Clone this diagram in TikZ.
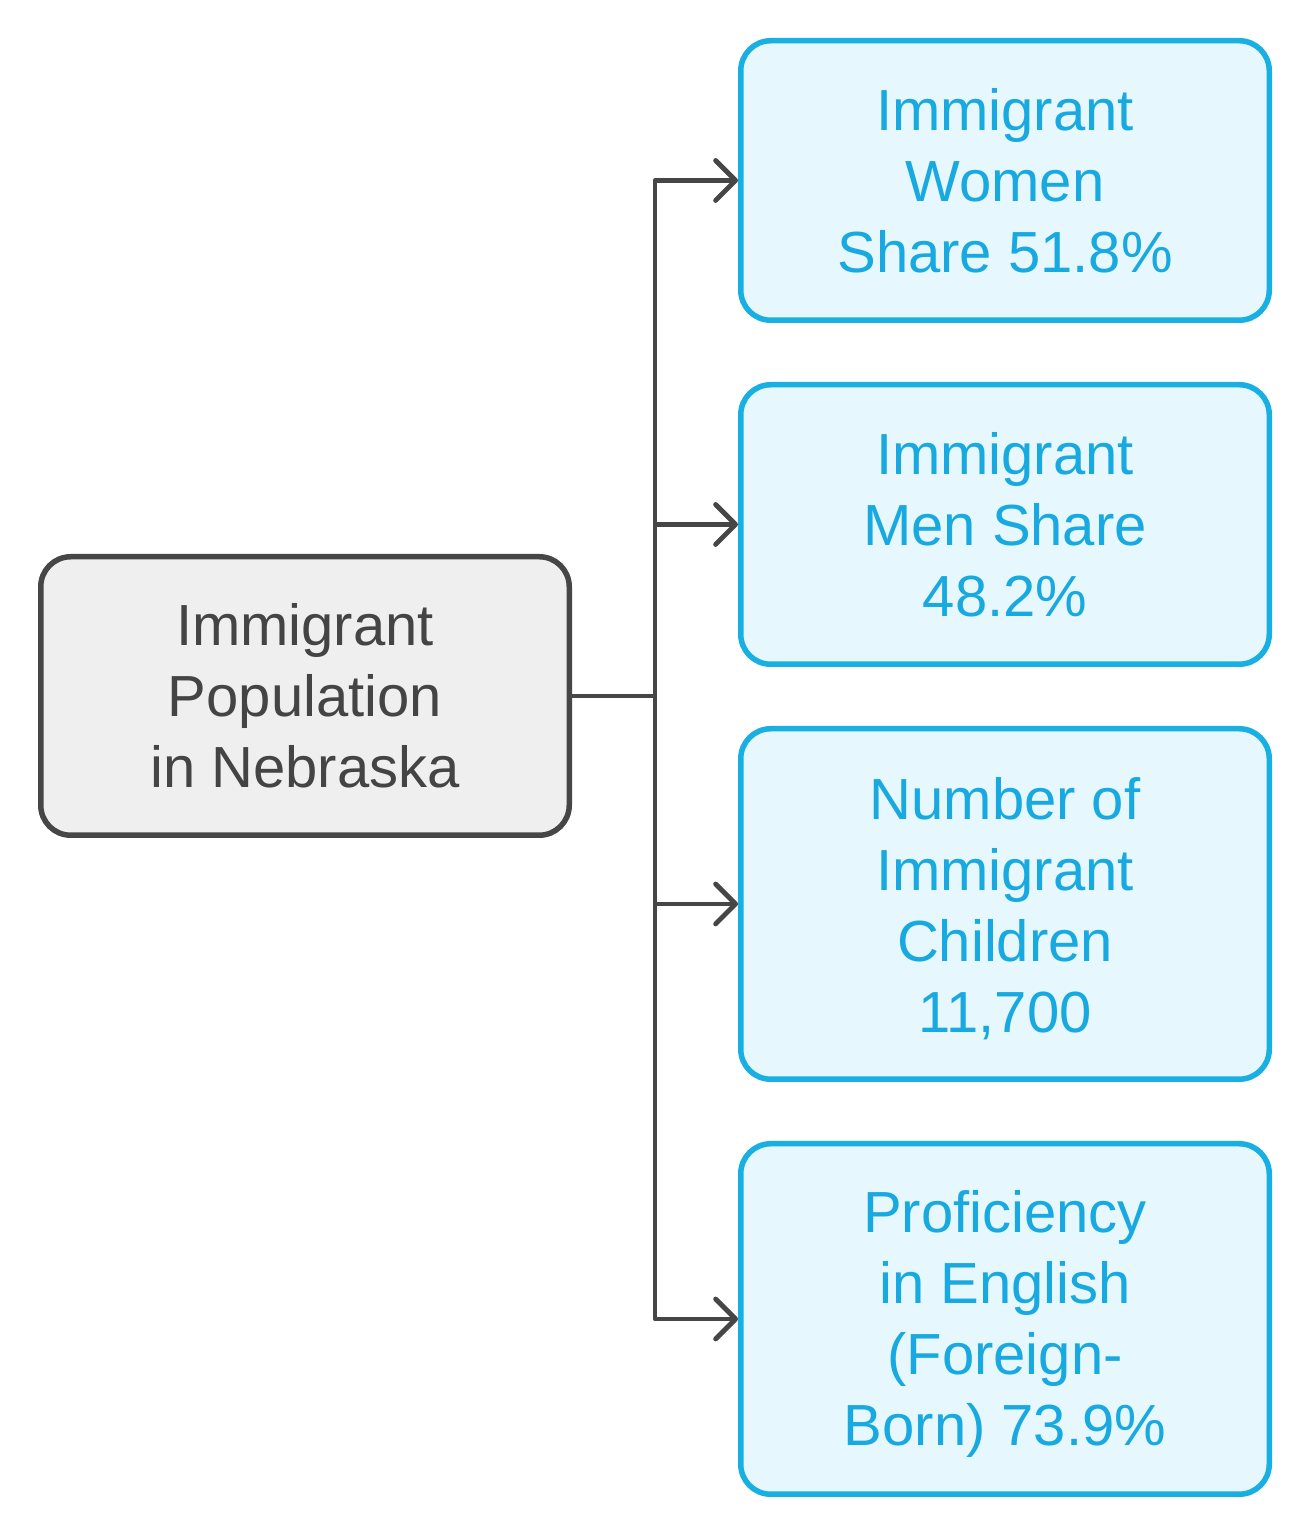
\documentclass[tikz,border=0pt]{standalone}
\usepackage{fontspec}
\setmainfont{Liberation Sans}
\usetikzlibrary{arrows.meta}
\definecolor{bluebd}{HTML}{18AFE3}
\definecolor{bluefill}{HTML}{E6F7FD}
\definecolor{bluetxt}{HTML}{17A9E0}
\definecolor{graybd}{HTML}{464646}
\definecolor{grayfill}{HTML}{EFEFEF}
\definecolor{graytxt}{HTML}{444444}
\newcommand{\topstrut}{\rule{0pt}{52pt}}
\tikzset{
  box/.style={rounded corners=30pt, line width=5.5pt, align=center,
    minimum width=528.5pt, inner sep=0pt,
    font=\fontsize{58pt}{71pt}\selectfont},
  rootbox/.style={box, draw=graybd, fill=grayfill, text=graytxt, minimum height=278.5pt},
  leafbox/.style={box, draw=bluebd, fill=bluefill, text=bluetxt},
  conn/.style={draw=graybd, line width=4.8pt, line join=round,
    -{Straight Barb[length=20pt,width=40pt,line width=4.8pt,line cap=round,line join=round]}},
  trunk/.style={draw=graybd, line width=4.8pt, line join=round}
}
\begin{document}
\begin{tikzpicture}[x=1pt,y=1pt]
\useasboundingbox[fill=white] (0,0) rectangle (1311,1536);
\node[rootbox] (root) at (305,840) {Immigrant\\Population\\in Nebraska};
\node[leafbox, minimum height=279.5pt] (b1) at (1005,1355.5) {Immigrant\\Women\\Share 51.8\%};
\node[leafbox, minimum height=279.5pt] (b2) at (1005,1011.5) {Immigrant\\Men Share\\48.2\%};
\node[leafbox, minimum height=350.5pt] (b3) at (1005,632) {\topstrut Number of\\Immigrant\\Children\\11,700};
\node[leafbox, minimum height=350.5pt] (b4) at (1005,217) {\topstrut Proficiency\\in English\\(Foreign-\\Born) 73.9\%};
\coordinate (j) at (655,840);
\draw[trunk] (root.east) -- (j);
\draw[conn] (j) |- (b1.west);
\draw[conn] (j) |- (b2.west);
\draw[conn] (j) |- (b3.west);
\draw[conn] (j) |- (b4.west);
\end{tikzpicture}
\end{document}
